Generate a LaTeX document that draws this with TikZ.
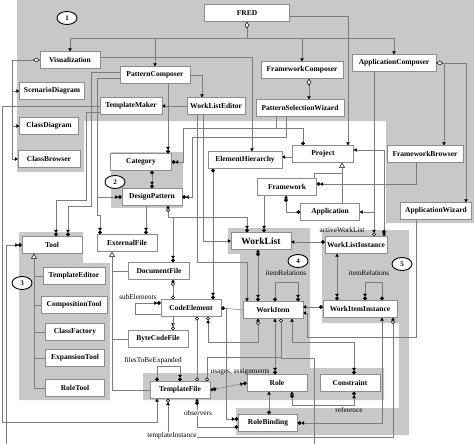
\documentclass[tikz,border=0pt]{standalone}
\usepackage{fontspec}
\setmainfont{Liberation Serif}
\usetikzlibrary{arrows.meta, shapes.geometric}

\definecolor{areagray}{RGB}{200,200,200}
\definecolor{linegray}{RGB}{125,125,125}

\tikzset{
  cls/.style={draw=black!45, fill=white, font=\bfseries\fontsize{7.5}{8}\selectfont,
    minimum height=17pt, inner sep=1pt},
  lbl/.style={font=\fontsize{7.3}{8}\selectfont, inner sep=0.5pt},
  num/.style={draw, ellipse, line width=0.9pt, fill=white, font=\bfseries\fontsize{7}{8}\selectfont,
    minimum width=20pt, minimum height=13pt, inner sep=0pt},
  lnk/.style={draw=linegray, line width=0.5pt},
  area/.style={fill=areagray, draw=none},
  ar/.tip={Triangle[length=3pt,width=3.6pt,color=black]},
  dm/.tip={Triangle[length=2.6pt,width=3.6pt,color=black] Circle[length=3.8pt,color=black]},
  dms/.tip={Circle[length=3.8pt,color=black] Triangle[length=2.6pt,width=3.6pt,color=black]},
  dot/.tip={Circle[length=3.8pt,color=black]},
  oc/.tip={Circle[length=3.8pt,color=black,fill=white]},
  om/.tip={Triangle[length=2.6pt,width=3.6pt,color=black] Circle[length=3.8pt,color=black,fill=white]},
  oms/.tip={Circle[length=3.8pt,color=black,fill=white] Triangle[length=2.6pt,width=3.6pt,color=black]},
  agg/.tip={Diamond[length=7pt,width=4.5pt,color=black,fill=white]},
  gen/.tip={Triangle[length=5pt,width=6pt,color=black,fill=white]}
}

\begin{document}
\begin{tikzpicture}[x=1pt, y=-1pt]
  \useasboundingbox (0,0) rectangle (474,444);
  % shaded areas
  \fill[area] (17,0) -- (474,0) -- (474,223) -- (386,223) -- (386,121) -- (84,121)
    -- (84,172) -- (17,172) -- cycle;
  \fill[area] (111,152) rectangle (183,208);
  \fill[area] (19,232) -- (83,232) -- (83,263) -- (110,263) -- (110,400) -- (19,400) -- cycle;
  \fill[area] (228,228) -- (310,228) -- (310,368) -- (384,368) -- (384,400) -- (143,400)
    -- (143,373) -- (240,373) -- (240,254) -- (228,254) -- cycle;
  \fill[area] (322,230) -- (409,230) -- (409,435) -- (236,435) -- (236,408) -- (399,408)
    -- (399,323) -- (322,323) -- cycle;

  % classes
  \node[cls, minimum width=85pt] (FRED) at (247,13) {FRED};
  \node[cls, minimum width=60pt] (Visualization) at (70,60) {Visualization};
  \node[cls, minimum width=65pt] (ScenarioDiagram) at (52,91) {ScenarioDiagram};
  \node[cls, minimum width=59pt] (ClassDiagram) at (49,126) {ClassDiagram};
  \node[cls, minimum width=62pt] (ClassBrowser) at (49,159) {ClassBrowser};
  \node[cls, minimum width=70pt] (PatternComposer) at (155,75) {PatternComposer};
  \node[cls, minimum width=62pt] (TemplateMaker) at (131,106) {TemplateMaker};
  \node[cls, minimum width=58pt] (WorkListEditor) at (216,106) {WorkListEditor};
  \node[cls, minimum width=82pt] (FrameworkComposer) at (302,70) {FrameworkComposer};
  \node[cls, minimum width=88pt] (PatternSelectionWizard) at (300,108) {PatternSelectionWizard};
  \node[cls, minimum width=84pt] (ApplicationComposer) at (394,63) {ApplicationComposer};
  \node[cls, minimum width=76pt] (FrameworkBrowser) at (425,154) {FrameworkBrowser};
  \node[cls, minimum width=71pt] (ApplicationWizard) at (436,211) {ApplicationWizard};
  \node[cls, minimum width=61pt] (Category) at (141,162) {Category};
  \node[cls, minimum width=60pt] (DesignPattern) at (152,197) {DesignPattern};
  \node[cls, minimum width=74pt] (ElementHierarchy) at (245,160) {ElementHierarchy};
  \node[cls, minimum width=61pt] (Project) at (323,154) {Project};
  \node[cls, minimum width=59pt] (Framework) at (287,187) {Framework};
  \node[cls, minimum width=59pt] (Application) at (330,212) {Application};
  \node[cls, minimum width=60pt, font=\bfseries\fontsize{9.5}{10}\selectfont] (WorkList) at (261,241) {WorkList};
  \node[cls, minimum width=62pt] (WorkListInstance) at (356,245) {WorkListInstance};
  \node[cls, minimum width=60pt] (Tool) at (52,245) {Tool};
  \node[cls, minimum width=60pt] (ExternalFile) at (127,243) {ExternalFile};
  \node[cls, minimum width=61pt] (DocumentFile) at (159,271) {DocumentFile};
  \node[cls, minimum width=62pt] (TemplateEditor) at (74,276) {TemplateEditor};
  \node[cls, minimum width=66pt] (CompositionTool) at (74,305) {CompositionTool};
  \node[cls, minimum width=59pt] (ClassFactory) at (75,332) {ClassFactory};
  \node[cls, minimum width=59pt] (ExpansionTool) at (75,358) {ExpansionTool};
  \node[cls, minimum width=59pt] (RoleTool) at (75,388) {RoleTool};
  \node[cls, minimum width=60pt] (CodeElement) at (191,308) {CodeElement};
  \node[cls, minimum width=60pt] (ByteCodeFile) at (158,339) {ByteCodeFile};
  \node[cls, minimum width=60pt] (WorkItem) at (273,310) {WorkItem};
  \node[cls, minimum width=74pt] (WorkItemInstance) at (360,309) {WorkItemInstance};
  \node[cls, minimum width=60pt] (TemplateFile) at (180,390) {TemplateFile};
  \node[cls, minimum width=60pt] (Role) at (277,383) {Role};
  \node[cls, minimum width=60pt] (Constraint) at (350,383) {Constraint};
  \node[cls, minimum width=59pt] (RoleBinding) at (268,423) {RoleBinding};

  % area numbers
  \node[num] (n1) at (67,18) {1};
  \node[num] (n2) at (115,182) {2};
  \node[num] (n3) at (22,283) {3};
  \node[num] (n4) at (298,261) {4};
  \node[num] (n5) at (402,264) {5};

  % FRED and the tools of area 1
  \draw[lnk, {agg}-] (FRED.south) -- (247,38) coordinate (fredbus);
  \draw[lnk, -{ar}] (fredbus) -| (Visualization.north);
  \draw[lnk, -{ar}] (fredbus) -| (PatternComposer.north);
  \draw[lnk, -{ar}] (fredbus) -| (FrameworkComposer.north);
  \draw[lnk, -{ar}] (fredbus) -| (ApplicationComposer.north);
  \draw[lnk, -{ar}] ([yshift=-3pt]FRED.east) -| (348,0 |- Project.north);
  \draw[lnk, {agg}-{ar}] (Visualization.west) -| (12,0 |- ClassBrowser.west) -- (ClassBrowser.west);
  \draw[lnk, -{ar}] (12,0 |- ScenarioDiagram.west) -- (ScenarioDiagram.west);
  \draw[lnk, -{ar}] (12,0 |- ClassDiagram.west) -- (ClassDiagram.west);
  \draw[lnk, -{ar}] ([yshift=3pt]Visualization.east) -| (252,0 |- ElementHierarchy.north);
  \draw[lnk, -{ar}] (PatternComposer.east) -| (202,0 |- WorkListEditor.north);
  \draw[lnk, -{ar}] (WorkListEditor.west) -- (TemplateMaker.east);
  \draw[lnk, -{dm}] (168,0 |- PatternComposer.south) -- (168,0 |- Category.north);
  \draw[lnk, {agg}-{ar}] (309,0 |- FrameworkComposer.south) -- (309,0 |- PatternSelectionWizard.north);
  \draw[lnk, {agg}-{ar}] (ApplicationComposer.east) -| (466,0 |- ApplicationWizard.north);
  \draw[lnk, -{ar}] (444,0 |- ApplicationComposer.east) -- (444,0 |- FrameworkBrowser.north);
  \draw[lnk, -{dm}] (276,0 |- PatternSelectionWizard.south) |- (183,128) |- (Category.east);
  \draw[lnk, -{dm}] (286,0 |- PatternSelectionWizard.south) |- (192,137) |- (DesignPattern.east);
  \draw[lnk, -{dot}] (276,128) -| (303,0 |- Project.north);
  \draw[lnk, -{dm}] ([yshift=-3pt]PatternComposer.west) -| (97,0 |- DesignPattern.west) -- (DesignPattern.west);
  \draw[lnk, -{dm}] (97,197) |- (100,215) -- (100,0 |- ExternalFile.north);
  \draw[lnk, -{dm}] ([yshift=-6pt]TemplateMaker.west) -| (86,200) -| (56,0 |- Tool.north);
  \draw[lnk, -{dm}] ([yshift=3pt]PatternComposer.west) -| (91,206) -| (68,0 |- Tool.north);
  \draw[lnk, -{ar}] (TemplateMaker.west) -- (2,106) |- (157,422) -- (157,0 |- TemplateFile.south);

  % projects
  \draw[lnk, -{ar}] (Project.west |- 0,157) -- (ElementHierarchy.east |- 0,157);
  \draw[lnk, {gen}-] (342,0 |- Project.south) -- (342,0 |- Application.north);
  \draw[lnk] (342,173) -| (314,0 |- Framework.north);
  \draw[lnk, -{dm}] (416,0 |- FrameworkBrowser.south) |- (Framework.east |- 0,184);
  \draw[lnk, {dms}-{dot}] (286,0 |- Framework.south) |- (Application.west);
  \draw[lnk, -{dm}] (264,0 |- Framework.south) -- (264,0 |- WorkList.north);
  \draw[lnk, {oms}-{dm}] (168,0 |- DesignPattern.south) |- (247,217) -- (247,0 |- WorkList.north);
  \draw[lnk, -{dm}] (173,217) -- (173,0 |- DocumentFile.north);
  \draw[lnk, {dot}-{dm}] (152,0 |- Category.south) -- (152,0 |- DesignPattern.north);
  \draw[lnk, -{dm}] (146,0 |- DesignPattern.south) -- (146,0 |- ExternalFile.north);
  \draw[lnk, -{om}] (374,0 |- ApplicationComposer.south) -- (374,0 |- WorkListInstance.north);
  \draw[lnk, -{ar}] (374,0 |- Application.east) -- (Application.east);
  \draw[lnk, {dms}-{ar}] (384,0 |- WorkListInstance.north) |- (Project.east |- 0,150);

  % tools and files
  \draw[lnk, -{dm}] (6,444) coordinate (toolend) |- (Tool.west);
  \draw[lnk, {gen}-] (34,0 |- Tool.south) |- (RoleTool.west);
  \foreach \t in {TemplateEditor, CompositionTool, ClassFactory, ExpansionTool}
    \draw[lnk] (34,0 |- \t.west) -- (\t.west);
  \draw[lnk, {gen}-] (112,0 |- ExternalFile.south) |- (TemplateFile.west);
  \draw[lnk] (112,0 |- DocumentFile.west) -- (DocumentFile.west);
  \draw[lnk] (112,0 |- ByteCodeFile.west) -- (ByteCodeFile.west);
  \draw[lnk, {oms}-{oc}] (173,0 |- DocumentFile.south) -- (173,0 |- CodeElement.north);
  \draw[lnk, -{ar}] (173,0 |- CodeElement.south) -- ([yshift=4pt]173,0 |- ByteCodeFile.north);
  \draw[lnk, -{oc}] (173,0 |- CodeElement.south) -- (173,0 |- ByteCodeFile.north);
  \draw[lnk, -{dm}] ([yshift=-6pt]CodeElement.west) -| (135,303) -- ([yshift=5pt]CodeElement.west);
  \draw[lnk, {dot}-{dm}] (213,0 |- ElementHierarchy.south) -- (213,0 |- CodeElement.north);
  \draw[lnk, {dot}-] (CodeElement.east) -- (WorkItem.west);
  \draw[lnk, -{dm}] (226,0 |- CodeElement.east) |- (RoleBinding.west |- 0,419);
  \draw[lnk, {oc}-{oc}] (197,0 |- CodeElement.south) -- (197,0 |- TemplateFile.north);
  \draw[lnk, {oms}-{om}] (258,0 |- WorkItem.south) |- (208,342) -- (208,0 |- CodeElement.south);
  \draw[lnk, {dot}-{dm}] (157,0 |- TemplateFile.north) |- (180,366) -- (180,0 |- TemplateFile.north);

  % work lists
  \draw[lnk, -{ar}] (203,0 |- WorkListEditor.south) |- (WorkList.west);
  \draw[lnk, -{ar}] (197,0 |- WorkListEditor.south) |- (247,262) -- (247,0 |- WorkItem.north);
  \draw[lnk, {dms}-{dm}] (258,0 |- WorkList.south) -- (258,0 |- WorkItem.north);
  \draw[lnk, {dot}-{dm}] (275,0 |- WorkItem.north) |- (298,282) -- (298,0 |- WorkItem.north);
  \draw[lnk, {dot}-{ar}] (WorkListInstance.west |- 0,242) -- (WorkList.east |- 0,242);
  \draw[lnk, {ar}-{dm}] (337,0 |- WorkListInstance.south) -- (337,0 |- WorkItemInstance.north);
  \draw[lnk, {dot}-{dm}] (382,0 |- WorkItemInstance.north) |- (365,282) -- (365,0 |- WorkItemInstance.north);
  \draw[lnk, {dot}-{ar}] (WorkItemInstance.west |- 0,307) -- (WorkItem.east |- 0,307);
  \draw[lnk, -{ar}] (416,0 |- ApplicationWizard.south) |- (307,337) |- (WorkItem.east |- 0,313);

  % roles
  \draw[lnk, {ar}-{dm}] (275,0 |- WorkItem.south) -- (275,0 |- Role.north);
  \draw[lnk, {ar}-{dm}] (292,0 |- WorkItem.south) |- (354,342) -- (354,0 |- Constraint.north);
  \draw[lnk, {oc}-{oc}] (281,0 |- WorkItem.south) |- (207,357) -- (207,0 |- TemplateFile.north);
  \draw[lnk] (281,358) -| (314,444) coordinate (bindend);
  \draw[lnk, {dot}-{ar}] (269,0 |- RoleBinding.north) -- (269,0 |- Role.south);
  \draw[lnk, {dms}-{dm}] (292,0 |- Role.south) |- (354,405) -- (354,0 |- Constraint.south);
  \draw[lnk, {dms}-{dm}] (TemplateFile.east) -- (Role.west);
  \draw[lnk, {dms}-{dot}] (197,0 |- TemplateFile.south) |- (RoleBinding.west |- 0,427);
  \draw[lnk, {ar}-{dm}] (382,0 |- WorkItemInstance.south) |- (RoleBinding.east);
  \draw[lnk, {oms}-{om}] (393,0 |- WorkItemInstance.south) |- (168,437) -- (168,0 |- TemplateFile.south);

  % role names
  \node[lbl] at (138,297) {subElements};
  \node[lbl] at (153,361) {filesToBeExpanded};
  \node[lbl] at (240,372) {usages, assignments};
  \node[lbl, fill=white] at (198,413) {observers};
  \node[lbl, fill=white] at (172,436) {templateInstance};
  \node[lbl] at (349,410) {reference};
  \node[lbl] at (342,230) {activeWorkList};
  \node[lbl] at (286,273) {itemRelations};
  \node[lbl] at (369,273) {itemRelations};
\end{tikzpicture}
\end{document}
